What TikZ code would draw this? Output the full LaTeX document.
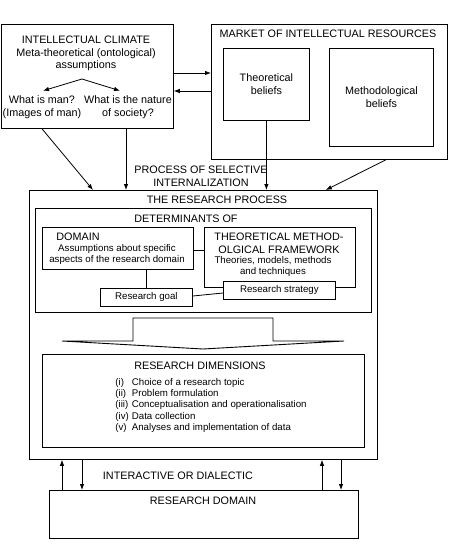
\documentclass[tikz,border=0pt]{standalone}
\usepackage{fontspec}
\setmainfont{Liberation Sans}
\usetikzlibrary{arrows.meta}

\begin{document}
\begin{tikzpicture}[x=1pt,y=-1pt,line width=0.8pt,
	box/.style={draw, anchor=north west, inner sep=0pt},
	big/.style={font=\fontsize{10.8}{12.6}\selectfont, align=center, inner sep=0pt},
	sml/.style={font=\fontsize{9.7}{11.3}\selectfont, align=center, inner sep=0pt},
	conn/.style={-{Latex[length=6pt,width=4.5pt]}}]
\useasboundingbox (0,0) rectangle (474,547);

%intellectual climate
\node[box, minimum width=172pt, minimum height=104pt] (climate) at (1,24) {};
\node[big] (climtxt) at (86,53.5) {INTELLECTUAL CLIMATE\\Meta-theoretical (ontological)\\assumptions};
\node[big] (man) at (42,107.5) {What is man?\\(Images of man)};
\node[big] (soc) at (128,107.5) {What is the nature\\of society?};
\coordinate (apex) at (82,79);
\draw[conn] (apex) -- ([xshift=1pt,yshift=5pt]man.north);
\draw[conn] (apex) -- ([xshift=-8pt,yshift=5pt]soc.north);

%market
\node[box, minimum width=236pt, minimum height=135pt] (market) at (211,24) {};
\node[big] (markettxt) at (328,34) {MARKET OF INTELLECTUAL RESOURCES};
\node[box, big, minimum width=86pt, minimum height=72pt] (theo) at (223,48) {Theoretical\\beliefs};
\node[box, big, minimum width=104pt, minimum height=98pt] (meth) at (329,48) {Methodological\\beliefs};

\draw[conn] ([yshift=-49pt]climate.north east) -- ([yshift=-49pt]climate.north east -| market.west);
\draw[conn] ([yshift=-67pt]climate.north east -| market.west) -- ([yshift=-67pt]climate.north east);

%selective internalization
\node[big] (select) at (201,176.5) {PROCESS OF SELECTIVE\\INTERNALIZATION};

%research process
\node[box, minimum width=348pt, minimum height=269pt] (proc) at (29,190) {};
\node[big] (proctxt) at (217,200) {THE RESEARCH PROCESS};

\draw[conn] ([xshift=41pt]climate.south west) -- ([xshift=64pt]proc.north west);
\draw[conn] ([xshift=125pt]climate.south west) -- ([xshift=97pt]proc.north west);
\draw[conn] (theo.south) -- (theo.south |- proc.north);
\draw[conn] ([xshift=-62pt]market.south east) -- ([xshift=-52pt]proc.north east);

\node[box, minimum width=336pt, minimum height=104pt] (determ) at (35,208) {};
\node[big] (determtxt) at (186,219) {DETERMINANTS OF};

\node[box, minimum width=151pt, minimum height=42pt] (domain) at (42,227) {};
\node[big, anchor=west] (domaintxt) at (56,237) {DOMAIN};
\node[sml] (domainsub) at (117,254.5) {Assumptions about specific\\aspects of the research domain};

\node[box, minimum width=151pt, minimum height=60pt] (frame) at (204,227) {};
\node[big] (frametxt) at (279,243) {THEORETICAL METHOD-\\OLGICAL FRAMEWORK};
\node[sml] (framesub) at (273,266.5) {Theories, models, methods\\and techniques};

\node[box, sml, fill=white, minimum width=112pt, minimum height=18pt] (strat) at (223,281) {Research strategy};
\node[box, sml, minimum width=92pt, minimum height=18pt] (goal) at (100,288) {Research goal};

\draw ([yshift=-23pt]domain.north east) -- ([yshift=-23pt]domain.north east -| frame.west);
\draw (goal.north) -- (goal.north |- domain.south);
\draw ([yshift=-8pt]goal.north east) -- ([yshift=-12pt]strat.north west);

%big arrow
\draw[line width=0.9pt] (133,318) -- (273,318) -- (273,341) -- (344,341) -- (203,349) -- (62,341) -- (133,341) -- cycle;

%research dimensions
\node[box, minimum width=322pt, minimum height=93pt] (dims) at (42,354) {};
\node[big] (dimstxt) at (200,366) {RESEARCH DIMENSIONS};
\node[sml, align=left, anchor=west] (dimlist) at (115,405.5) {%
	\begin{tabular}{@{}l@{\hspace{3pt}}l@{}}
	(i) & Choice of a research topic\\
	(ii) & Problem formulation\\
	(iii) & Conceptualisation and operationalisation\\
	(iv) & Data collection\\
	(v) & Analyses and implementation of data
	\end{tabular}};

%research domain
\node[box, minimum width=309pt, minimum height=48pt] (rdomain) at (49,490) {};
\node[big] (rdomaintxt) at (203,501) {RESEARCH DOMAIN};
\node[big] (dialectic) at (178,476) {INTERACTIVE OR DIALECTIC};

\foreach \x in {13,273}
	\draw[conn] ([xshift=\x pt]rdomain.north west) -- ([xshift=\x pt]rdomain.north west |- proc.south);
\foreach \x in {53,312}
	\draw[conn] ([xshift=\x pt]proc.south west) -- ([xshift=\x pt]proc.south west |- rdomain.north);

\end{tikzpicture}
\end{document}
